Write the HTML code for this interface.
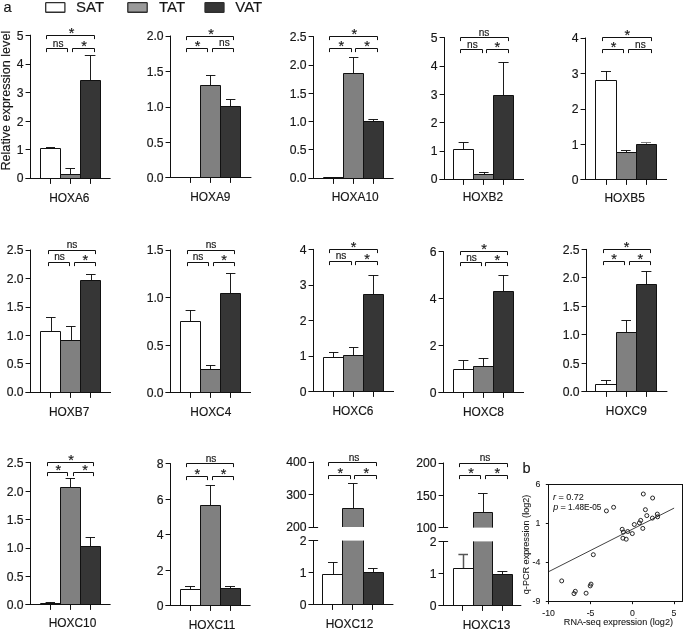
<!DOCTYPE html>
<html><head><meta charset="utf-8"><title>Figure</title>
<style>
html,body{margin:0;padding:0;background:#fff;}
svg{display:block;}
svg text{font-family:"Liberation Sans", sans-serif;fill:#161616;stroke:#161616;stroke-width:0.16px;}
svg .thin text, svg text.thin{stroke-width:0.08px;}
</style></head>
<body>
<svg width="685" height="630" viewBox="0 0 685 630">
<rect x="0" y="0" width="685" height="630" fill="#fff"/>
<line x1="50.50" y1="147.60" x2="50.50" y2="148.50" stroke="#111111" stroke-width="0.95"/>
<line x1="46.00" y1="147.50" x2="55.00" y2="147.50" stroke="#111111" stroke-width="0.95"/>
<path d="M40.50,178.50 V148.50 H60.50 V178.50" fill="#ffffff" stroke="#111111" stroke-width="1.0" stroke-linejoin="miter"/>
<line x1="70.50" y1="168.20" x2="70.50" y2="174.50" stroke="#111111" stroke-width="0.95"/>
<line x1="65.40" y1="168.50" x2="75.00" y2="168.50" stroke="#111111" stroke-width="0.95"/>
<path d="M60.50,178.50 V174.50 H80.50 V178.50" fill="#808080" stroke="#111111" stroke-width="1.0" stroke-linejoin="miter"/>
<line x1="90.50" y1="55.60" x2="90.50" y2="80.50" stroke="#111111" stroke-width="0.95"/>
<line x1="84.80" y1="55.50" x2="95.40" y2="55.50" stroke="#111111" stroke-width="0.95"/>
<path d="M80.50,178.50 V80.50 H100.50 V178.50" fill="#363636" stroke="#111111" stroke-width="1.0" stroke-linejoin="miter"/>
<line x1="25.60" y1="178.50" x2="110.60" y2="178.50" stroke="#111111" stroke-width="1.0"/>
<line x1="30.50" y1="34.75" x2="30.50" y2="178.95" stroke="#111111" stroke-width="1.0"/>
<line x1="25.60" y1="35.50" x2="30.50" y2="35.50" stroke="#111111" stroke-width="1.0"/>
<text x="23.60" y="39.50" font-size="12.2" text-anchor="end" >5</text>
<line x1="25.60" y1="64.50" x2="30.50" y2="64.50" stroke="#111111" stroke-width="1.0"/>
<text x="23.60" y="68.30" font-size="12.2" text-anchor="end" >4</text>
<line x1="25.60" y1="92.50" x2="30.50" y2="92.50" stroke="#111111" stroke-width="1.0"/>
<text x="23.60" y="96.70" font-size="12.2" text-anchor="end" >3</text>
<line x1="25.60" y1="121.50" x2="30.50" y2="121.50" stroke="#111111" stroke-width="1.0"/>
<text x="23.60" y="125.50" font-size="12.2" text-anchor="end" >2</text>
<line x1="25.60" y1="149.50" x2="30.50" y2="149.50" stroke="#111111" stroke-width="1.0"/>
<text x="23.60" y="153.90" font-size="12.2" text-anchor="end" >1</text>
<line x1="25.60" y1="178.50" x2="30.50" y2="178.50" stroke="#111111" stroke-width="1.0"/>
<text x="23.60" y="182.40" font-size="12.2" text-anchor="end" >0</text>
<line x1="50.50" y1="178.50" x2="50.50" y2="183.90" stroke="#111111" stroke-width="1.0"/>
<line x1="70.50" y1="178.50" x2="70.50" y2="183.90" stroke="#111111" stroke-width="1.0"/>
<line x1="90.50" y1="178.50" x2="90.50" y2="183.90" stroke="#111111" stroke-width="1.0"/>
<text x="69.30" y="202.10" font-size="11.9" text-anchor="middle" >HOXA6</text>
<path d="M46.50,39.10 V35.50 H94.50 V39.10" fill="none" stroke="#111111" stroke-width="1.0" stroke-linejoin="miter"/>
<text x="71.65" y="38.15" font-size="14.5" text-anchor="middle" stroke-width="0.5">*</text>
<path d="M46.50,52.10 V48.50 H67.50 V52.10" fill="none" stroke="#111111" stroke-width="1.0" stroke-linejoin="miter"/>
<text x="58.20" y="46.70" font-size="10.1" text-anchor="middle" >ns</text>
<path d="M72.50,52.10 V48.50 H94.50 V52.10" fill="none" stroke="#111111" stroke-width="1.0" stroke-linejoin="miter"/>
<text x="84.10" y="51.35" font-size="14.5" text-anchor="middle" stroke-width="0.5">*</text>
<path d="M180.50,177.50 V177.50 H200.50 V177.50" fill="#ffffff" stroke="#111111" stroke-width="1.0" stroke-linejoin="miter"/>
<line x1="210.50" y1="75.00" x2="210.50" y2="85.50" stroke="#111111" stroke-width="0.95"/>
<line x1="206.00" y1="75.50" x2="215.40" y2="75.50" stroke="#111111" stroke-width="0.95"/>
<path d="M200.50,177.50 V85.50 H220.50 V177.50" fill="#808080" stroke="#111111" stroke-width="1.0" stroke-linejoin="miter"/>
<line x1="230.50" y1="99.40" x2="230.50" y2="106.50" stroke="#111111" stroke-width="0.95"/>
<line x1="226.00" y1="99.50" x2="235.40" y2="99.50" stroke="#111111" stroke-width="0.95"/>
<path d="M220.50,177.50 V106.50 H240.50 V177.50" fill="#363636" stroke="#111111" stroke-width="1.0" stroke-linejoin="miter"/>
<line x1="165.60" y1="177.50" x2="251.40" y2="177.50" stroke="#111111" stroke-width="1.0"/>
<line x1="170.50" y1="35.55" x2="170.50" y2="177.95" stroke="#111111" stroke-width="1.0"/>
<line x1="165.60" y1="36.50" x2="170.50" y2="36.50" stroke="#111111" stroke-width="1.0"/>
<text x="163.60" y="40.30" font-size="12.2" text-anchor="end" >2.0</text>
<line x1="165.60" y1="71.50" x2="170.50" y2="71.50" stroke="#111111" stroke-width="1.0"/>
<text x="163.60" y="75.70" font-size="12.2" text-anchor="end" >1.5</text>
<line x1="165.60" y1="107.50" x2="170.50" y2="107.50" stroke="#111111" stroke-width="1.0"/>
<text x="163.60" y="111.10" font-size="12.2" text-anchor="end" >1.0</text>
<line x1="165.60" y1="142.50" x2="170.50" y2="142.50" stroke="#111111" stroke-width="1.0"/>
<text x="163.60" y="146.60" font-size="12.2" text-anchor="end" >0.5</text>
<line x1="165.60" y1="177.50" x2="170.50" y2="177.50" stroke="#111111" stroke-width="1.0"/>
<text x="163.60" y="182.00" font-size="12.2" text-anchor="end" >0.0</text>
<line x1="190.50" y1="177.50" x2="190.50" y2="182.90" stroke="#111111" stroke-width="1.0"/>
<line x1="210.50" y1="177.50" x2="210.50" y2="182.90" stroke="#111111" stroke-width="1.0"/>
<line x1="230.50" y1="177.50" x2="230.50" y2="182.90" stroke="#111111" stroke-width="1.0"/>
<text x="210.30" y="200.70" font-size="11.9" text-anchor="middle" >HOXA9</text>
<path d="M186.50,40.10 V36.50 H233.50 V40.10" fill="none" stroke="#111111" stroke-width="1.0" stroke-linejoin="miter"/>
<text x="211.00" y="38.85" font-size="14.5" text-anchor="middle" stroke-width="0.5">*</text>
<path d="M186.50,52.10 V48.50 H207.50 V52.10" fill="none" stroke="#111111" stroke-width="1.0" stroke-linejoin="miter"/>
<text x="197.60" y="50.85" font-size="14.5" text-anchor="middle" stroke-width="0.5">*</text>
<path d="M212.50,52.10 V48.50 H233.50 V52.10" fill="none" stroke="#111111" stroke-width="1.0" stroke-linejoin="miter"/>
<text x="224.40" y="46.20" font-size="10.1" text-anchor="middle" >ns</text>
<path d="M323.50,178.50 V177.50 H343.50 V178.50" fill="#ffffff" stroke="#111111" stroke-width="1.0" stroke-linejoin="miter"/>
<line x1="353.50" y1="57.40" x2="353.50" y2="73.50" stroke="#111111" stroke-width="0.95"/>
<line x1="349.00" y1="57.50" x2="358.40" y2="57.50" stroke="#111111" stroke-width="0.95"/>
<path d="M343.50,178.50 V73.50 H363.50 V178.50" fill="#808080" stroke="#111111" stroke-width="1.0" stroke-linejoin="miter"/>
<line x1="373.50" y1="119.60" x2="373.50" y2="121.50" stroke="#111111" stroke-width="0.95"/>
<line x1="368.40" y1="119.50" x2="378.00" y2="119.50" stroke="#111111" stroke-width="0.95"/>
<path d="M363.50,178.50 V121.50 H383.50 V178.50" fill="#363636" stroke="#111111" stroke-width="1.0" stroke-linejoin="miter"/>
<line x1="308.60" y1="178.50" x2="393.60" y2="178.50" stroke="#111111" stroke-width="1.0"/>
<line x1="313.50" y1="36.15" x2="313.50" y2="178.95" stroke="#111111" stroke-width="1.0"/>
<line x1="308.60" y1="36.50" x2="313.50" y2="36.50" stroke="#111111" stroke-width="1.0"/>
<text x="306.60" y="40.90" font-size="12.2" text-anchor="end" >2.5</text>
<line x1="308.60" y1="65.50" x2="313.50" y2="65.50" stroke="#111111" stroke-width="1.0"/>
<text x="306.60" y="69.30" font-size="12.2" text-anchor="end" >2.0</text>
<line x1="308.60" y1="93.50" x2="313.50" y2="93.50" stroke="#111111" stroke-width="1.0"/>
<text x="306.60" y="97.70" font-size="12.2" text-anchor="end" >1.5</text>
<line x1="308.60" y1="121.50" x2="313.50" y2="121.50" stroke="#111111" stroke-width="1.0"/>
<text x="306.60" y="125.70" font-size="12.2" text-anchor="end" >1.0</text>
<line x1="308.60" y1="149.50" x2="313.50" y2="149.50" stroke="#111111" stroke-width="1.0"/>
<text x="306.60" y="153.90" font-size="12.2" text-anchor="end" >0.5</text>
<line x1="308.60" y1="178.50" x2="313.50" y2="178.50" stroke="#111111" stroke-width="1.0"/>
<text x="306.60" y="182.30" font-size="12.2" text-anchor="end" >0.0</text>
<line x1="333.50" y1="178.50" x2="333.50" y2="183.90" stroke="#111111" stroke-width="1.0"/>
<line x1="353.50" y1="178.50" x2="353.50" y2="183.90" stroke="#111111" stroke-width="1.0"/>
<line x1="373.50" y1="178.50" x2="373.50" y2="183.90" stroke="#111111" stroke-width="1.0"/>
<text x="355.20" y="201.30" font-size="11.9" text-anchor="middle" >HOXA10</text>
<path d="M329.50,40.10 V36.50 H377.50 V40.10" fill="none" stroke="#111111" stroke-width="1.0" stroke-linejoin="miter"/>
<text x="354.40" y="39.45" font-size="14.5" text-anchor="middle" stroke-width="0.5">*</text>
<path d="M329.50,52.10 V48.50 H351.50 V52.10" fill="none" stroke="#111111" stroke-width="1.0" stroke-linejoin="miter"/>
<text x="341.40" y="51.45" font-size="14.5" text-anchor="middle" stroke-width="0.5">*</text>
<path d="M355.50,52.10 V48.50 H377.50 V52.10" fill="none" stroke="#111111" stroke-width="1.0" stroke-linejoin="miter"/>
<text x="367.00" y="51.45" font-size="14.5" text-anchor="middle" stroke-width="0.5">*</text>
<line x1="463.50" y1="142.60" x2="463.50" y2="149.50" stroke="#111111" stroke-width="0.95"/>
<line x1="458.60" y1="142.50" x2="468.60" y2="142.50" stroke="#111111" stroke-width="0.95"/>
<path d="M453.50,179.50 V149.50 H473.50 V179.50" fill="#ffffff" stroke="#111111" stroke-width="1.0" stroke-linejoin="miter"/>
<line x1="484.50" y1="172.40" x2="484.50" y2="174.50" stroke="#111111" stroke-width="0.95"/>
<line x1="479.00" y1="172.50" x2="488.60" y2="172.50" stroke="#111111" stroke-width="0.95"/>
<path d="M473.50,179.50 V174.50 H493.50 V179.50" fill="#808080" stroke="#111111" stroke-width="1.0" stroke-linejoin="miter"/>
<line x1="503.50" y1="62.00" x2="503.50" y2="95.50" stroke="#111111" stroke-width="0.95"/>
<line x1="498.40" y1="62.50" x2="508.60" y2="62.50" stroke="#111111" stroke-width="0.95"/>
<path d="M493.50,179.50 V95.50 H513.50 V179.50" fill="#363636" stroke="#111111" stroke-width="1.0" stroke-linejoin="miter"/>
<line x1="439.60" y1="179.50" x2="524.00" y2="179.50" stroke="#111111" stroke-width="1.0"/>
<line x1="444.50" y1="37.15" x2="444.50" y2="179.95" stroke="#111111" stroke-width="1.0"/>
<line x1="439.60" y1="37.50" x2="444.50" y2="37.50" stroke="#111111" stroke-width="1.0"/>
<text x="437.60" y="41.90" font-size="12.2" text-anchor="end" >5</text>
<line x1="439.60" y1="66.50" x2="444.50" y2="66.50" stroke="#111111" stroke-width="1.0"/>
<text x="437.60" y="70.30" font-size="12.2" text-anchor="end" >4</text>
<line x1="439.60" y1="94.50" x2="444.50" y2="94.50" stroke="#111111" stroke-width="1.0"/>
<text x="437.60" y="98.50" font-size="12.2" text-anchor="end" >3</text>
<line x1="439.60" y1="122.50" x2="444.50" y2="122.50" stroke="#111111" stroke-width="1.0"/>
<text x="437.60" y="126.70" font-size="12.2" text-anchor="end" >2</text>
<line x1="439.60" y1="151.50" x2="444.50" y2="151.50" stroke="#111111" stroke-width="1.0"/>
<text x="437.60" y="155.10" font-size="12.2" text-anchor="end" >1</text>
<line x1="439.60" y1="179.50" x2="444.50" y2="179.50" stroke="#111111" stroke-width="1.0"/>
<text x="437.60" y="183.30" font-size="12.2" text-anchor="end" >0</text>
<line x1="463.50" y1="179.50" x2="463.50" y2="184.90" stroke="#111111" stroke-width="1.0"/>
<line x1="483.50" y1="179.50" x2="483.50" y2="184.90" stroke="#111111" stroke-width="1.0"/>
<line x1="503.50" y1="179.50" x2="503.50" y2="184.90" stroke="#111111" stroke-width="1.0"/>
<text x="482.90" y="201.30" font-size="11.9" text-anchor="middle" >HOXB2</text>
<path d="M460.50,41.10 V37.50 H508.50 V41.10" fill="none" stroke="#111111" stroke-width="1.0" stroke-linejoin="miter"/>
<text x="484.00" y="35.80" font-size="10.1" text-anchor="middle" >ns</text>
<path d="M460.50,53.10 V49.50 H482.50 V53.10" fill="none" stroke="#111111" stroke-width="1.0" stroke-linejoin="miter"/>
<text x="472.40" y="47.80" font-size="10.1" text-anchor="middle" >ns</text>
<path d="M486.50,53.10 V49.50 H508.50 V53.10" fill="none" stroke="#111111" stroke-width="1.0" stroke-linejoin="miter"/>
<text x="497.30" y="52.45" font-size="14.5" text-anchor="middle" stroke-width="0.5">*</text>
<line x1="606.50" y1="71.00" x2="606.50" y2="80.50" stroke="#111111" stroke-width="0.95"/>
<line x1="601.00" y1="71.50" x2="611.00" y2="71.50" stroke="#111111" stroke-width="0.95"/>
<path d="M595.50,179.50 V80.50 H616.50 V179.50" fill="#ffffff" stroke="#111111" stroke-width="1.0" stroke-linejoin="miter"/>
<line x1="626.50" y1="150.60" x2="626.50" y2="152.50" stroke="#111111" stroke-width="0.95"/>
<line x1="621.00" y1="150.50" x2="630.60" y2="150.50" stroke="#111111" stroke-width="0.95"/>
<path d="M616.50,179.50 V152.50 H636.50 V179.50" fill="#808080" stroke="#111111" stroke-width="1.0" stroke-linejoin="miter"/>
<line x1="646.50" y1="142.40" x2="646.50" y2="144.50" stroke="#777" stroke-width="0.95"/>
<line x1="641.00" y1="142.50" x2="651.00" y2="142.50" stroke="#777" stroke-width="0.95"/>
<path d="M636.50,179.50 V144.50 H656.50 V179.50" fill="#363636" stroke="#111111" stroke-width="1.0" stroke-linejoin="miter"/>
<line x1="580.60" y1="179.50" x2="667.00" y2="179.50" stroke="#111111" stroke-width="1.0"/>
<line x1="585.50" y1="37.55" x2="585.50" y2="179.95" stroke="#111111" stroke-width="1.0"/>
<line x1="580.60" y1="38.50" x2="585.50" y2="38.50" stroke="#111111" stroke-width="1.0"/>
<text x="578.60" y="42.30" font-size="12.2" text-anchor="end" >4</text>
<line x1="580.60" y1="73.50" x2="585.50" y2="73.50" stroke="#111111" stroke-width="1.0"/>
<text x="578.60" y="77.90" font-size="12.2" text-anchor="end" >3</text>
<line x1="580.60" y1="109.50" x2="585.50" y2="109.50" stroke="#111111" stroke-width="1.0"/>
<text x="578.60" y="113.30" font-size="12.2" text-anchor="end" >2</text>
<line x1="580.60" y1="144.50" x2="585.50" y2="144.50" stroke="#111111" stroke-width="1.0"/>
<text x="578.60" y="148.70" font-size="12.2" text-anchor="end" >1</text>
<line x1="580.60" y1="179.50" x2="585.50" y2="179.50" stroke="#111111" stroke-width="1.0"/>
<text x="578.60" y="183.70" font-size="12.2" text-anchor="end" >0</text>
<line x1="606.50" y1="179.50" x2="606.50" y2="184.90" stroke="#111111" stroke-width="1.0"/>
<line x1="626.50" y1="179.50" x2="626.50" y2="184.90" stroke="#111111" stroke-width="1.0"/>
<line x1="646.50" y1="179.50" x2="646.50" y2="184.90" stroke="#111111" stroke-width="1.0"/>
<text x="624.70" y="202.10" font-size="11.9" text-anchor="middle" >HOXB5</text>
<path d="M602.50,41.10 V37.50 H651.50 V41.10" fill="none" stroke="#111111" stroke-width="1.0" stroke-linejoin="miter"/>
<text x="627.40" y="40.45" font-size="14.5" text-anchor="middle" stroke-width="0.5">*</text>
<path d="M602.50,53.10 V49.50 H623.50 V53.10" fill="none" stroke="#111111" stroke-width="1.0" stroke-linejoin="miter"/>
<text x="613.60" y="52.45" font-size="14.5" text-anchor="middle" stroke-width="0.5">*</text>
<path d="M628.50,53.10 V49.50 H651.50 V53.10" fill="none" stroke="#111111" stroke-width="1.0" stroke-linejoin="miter"/>
<text x="640.40" y="47.80" font-size="10.1" text-anchor="middle" >ns</text>
<line x1="51.50" y1="317.60" x2="51.50" y2="331.50" stroke="#111111" stroke-width="0.95"/>
<line x1="46.00" y1="317.50" x2="55.60" y2="317.50" stroke="#111111" stroke-width="0.95"/>
<path d="M40.50,392.50 V331.50 H60.50 V392.50" fill="#ffffff" stroke="#111111" stroke-width="1.0" stroke-linejoin="miter"/>
<line x1="71.50" y1="326.40" x2="71.50" y2="340.50" stroke="#111111" stroke-width="0.95"/>
<line x1="66.00" y1="326.50" x2="75.60" y2="326.50" stroke="#111111" stroke-width="0.95"/>
<path d="M60.50,392.50 V340.50 H80.50 V392.50" fill="#808080" stroke="#111111" stroke-width="1.0" stroke-linejoin="miter"/>
<line x1="91.50" y1="274.40" x2="91.50" y2="280.50" stroke="#111111" stroke-width="0.95"/>
<line x1="86.00" y1="274.50" x2="95.60" y2="274.50" stroke="#111111" stroke-width="0.95"/>
<path d="M80.50,392.50 V280.50 H100.50 V392.50" fill="#363636" stroke="#111111" stroke-width="1.0" stroke-linejoin="miter"/>
<line x1="25.60" y1="392.50" x2="111.00" y2="392.50" stroke="#111111" stroke-width="1.0"/>
<line x1="30.50" y1="249.55" x2="30.50" y2="392.95" stroke="#111111" stroke-width="1.0"/>
<line x1="25.60" y1="250.50" x2="30.50" y2="250.50" stroke="#111111" stroke-width="1.0"/>
<text x="23.60" y="254.30" font-size="12.2" text-anchor="end" >2.5</text>
<line x1="25.60" y1="278.50" x2="30.50" y2="278.50" stroke="#111111" stroke-width="1.0"/>
<text x="23.60" y="282.90" font-size="12.2" text-anchor="end" >2.0</text>
<line x1="25.60" y1="307.50" x2="30.50" y2="307.50" stroke="#111111" stroke-width="1.0"/>
<text x="23.60" y="311.30" font-size="12.2" text-anchor="end" >1.5</text>
<line x1="25.60" y1="335.50" x2="30.50" y2="335.50" stroke="#111111" stroke-width="1.0"/>
<text x="23.60" y="339.70" font-size="12.2" text-anchor="end" >1.0</text>
<line x1="25.60" y1="363.50" x2="30.50" y2="363.50" stroke="#111111" stroke-width="1.0"/>
<text x="23.60" y="367.90" font-size="12.2" text-anchor="end" >0.5</text>
<line x1="25.60" y1="392.50" x2="30.50" y2="392.50" stroke="#111111" stroke-width="1.0"/>
<text x="23.60" y="396.30" font-size="12.2" text-anchor="end" >0.0</text>
<line x1="50.50" y1="392.50" x2="50.50" y2="397.90" stroke="#111111" stroke-width="1.0"/>
<line x1="70.50" y1="392.50" x2="70.50" y2="397.90" stroke="#111111" stroke-width="1.0"/>
<line x1="90.50" y1="392.50" x2="90.50" y2="397.90" stroke="#111111" stroke-width="1.0"/>
<text x="69.20" y="416.10" font-size="11.9" text-anchor="middle" >HOXB7</text>
<path d="M48.50,254.10 V250.50 H95.50 V254.10" fill="none" stroke="#111111" stroke-width="1.0" stroke-linejoin="miter"/>
<text x="72.00" y="248.20" font-size="10.1" text-anchor="middle" >ns</text>
<path d="M48.50,266.10 V262.50 H69.50 V266.10" fill="none" stroke="#111111" stroke-width="1.0" stroke-linejoin="miter"/>
<text x="59.60" y="260.20" font-size="10.1" text-anchor="middle" >ns</text>
<path d="M74.50,266.10 V262.50 H95.50 V266.10" fill="none" stroke="#111111" stroke-width="1.0" stroke-linejoin="miter"/>
<text x="85.40" y="264.85" font-size="14.5" text-anchor="middle" stroke-width="0.5">*</text>
<line x1="190.50" y1="310.00" x2="190.50" y2="321.50" stroke="#111111" stroke-width="0.95"/>
<line x1="185.60" y1="310.50" x2="195.40" y2="310.50" stroke="#111111" stroke-width="0.95"/>
<path d="M180.50,392.50 V321.50 H200.50 V392.50" fill="#ffffff" stroke="#111111" stroke-width="1.0" stroke-linejoin="miter"/>
<line x1="210.50" y1="365.00" x2="210.50" y2="369.50" stroke="#111111" stroke-width="0.95"/>
<line x1="206.00" y1="365.50" x2="215.40" y2="365.50" stroke="#111111" stroke-width="0.95"/>
<path d="M200.50,392.50 V369.50 H220.50 V392.50" fill="#808080" stroke="#111111" stroke-width="1.0" stroke-linejoin="miter"/>
<line x1="230.50" y1="273.00" x2="230.50" y2="293.50" stroke="#111111" stroke-width="0.95"/>
<line x1="226.00" y1="273.50" x2="235.40" y2="273.50" stroke="#111111" stroke-width="0.95"/>
<path d="M220.50,392.50 V293.50 H240.50 V392.50" fill="#363636" stroke="#111111" stroke-width="1.0" stroke-linejoin="miter"/>
<line x1="165.60" y1="392.50" x2="251.00" y2="392.50" stroke="#111111" stroke-width="1.0"/>
<line x1="170.50" y1="249.55" x2="170.50" y2="392.95" stroke="#111111" stroke-width="1.0"/>
<line x1="165.60" y1="250.50" x2="170.50" y2="250.50" stroke="#111111" stroke-width="1.0"/>
<text x="163.60" y="254.30" font-size="12.2" text-anchor="end" >1.5</text>
<line x1="165.60" y1="297.50" x2="170.50" y2="297.50" stroke="#111111" stroke-width="1.0"/>
<text x="163.60" y="301.90" font-size="12.2" text-anchor="end" >1.0</text>
<line x1="165.60" y1="345.50" x2="170.50" y2="345.50" stroke="#111111" stroke-width="1.0"/>
<text x="163.60" y="349.50" font-size="12.2" text-anchor="end" >0.5</text>
<line x1="165.60" y1="392.50" x2="170.50" y2="392.50" stroke="#111111" stroke-width="1.0"/>
<text x="163.60" y="396.70" font-size="12.2" text-anchor="end" >0.0</text>
<line x1="190.50" y1="392.50" x2="190.50" y2="397.90" stroke="#111111" stroke-width="1.0"/>
<line x1="210.50" y1="392.50" x2="210.50" y2="397.90" stroke="#111111" stroke-width="1.0"/>
<line x1="230.50" y1="392.50" x2="230.50" y2="397.90" stroke="#111111" stroke-width="1.0"/>
<text x="210.80" y="416.10" font-size="11.9" text-anchor="middle" >HOXC4</text>
<path d="M187.50,254.10 V250.50 H234.50 V254.10" fill="none" stroke="#111111" stroke-width="1.0" stroke-linejoin="miter"/>
<text x="211.00" y="248.20" font-size="10.1" text-anchor="middle" >ns</text>
<path d="M187.50,266.10 V262.50 H208.50 V266.10" fill="none" stroke="#111111" stroke-width="1.0" stroke-linejoin="miter"/>
<text x="198.00" y="260.20" font-size="10.1" text-anchor="middle" >ns</text>
<path d="M213.50,266.10 V262.50 H234.50 V266.10" fill="none" stroke="#111111" stroke-width="1.0" stroke-linejoin="miter"/>
<text x="224.00" y="264.85" font-size="14.5" text-anchor="middle" stroke-width="0.5">*</text>
<line x1="333.50" y1="352.00" x2="333.50" y2="357.50" stroke="#111111" stroke-width="0.95"/>
<line x1="329.00" y1="352.50" x2="338.40" y2="352.50" stroke="#111111" stroke-width="0.95"/>
<path d="M323.50,391.50 V357.50 H343.50 V391.50" fill="#ffffff" stroke="#111111" stroke-width="1.0" stroke-linejoin="miter"/>
<line x1="353.50" y1="347.60" x2="353.50" y2="355.50" stroke="#111111" stroke-width="0.95"/>
<line x1="349.00" y1="347.50" x2="358.40" y2="347.50" stroke="#111111" stroke-width="0.95"/>
<path d="M343.50,391.50 V355.50 H363.50 V391.50" fill="#808080" stroke="#111111" stroke-width="1.0" stroke-linejoin="miter"/>
<line x1="373.50" y1="275.00" x2="373.50" y2="294.50" stroke="#111111" stroke-width="0.95"/>
<line x1="368.40" y1="275.50" x2="378.40" y2="275.50" stroke="#111111" stroke-width="0.95"/>
<path d="M363.50,391.50 V294.50 H383.50 V391.50" fill="#363636" stroke="#111111" stroke-width="1.0" stroke-linejoin="miter"/>
<line x1="308.60" y1="391.50" x2="394.00" y2="391.50" stroke="#111111" stroke-width="1.0"/>
<line x1="313.50" y1="248.95" x2="313.50" y2="391.95" stroke="#111111" stroke-width="1.0"/>
<line x1="308.60" y1="249.50" x2="313.50" y2="249.50" stroke="#111111" stroke-width="1.0"/>
<text x="306.60" y="253.70" font-size="12.2" text-anchor="end" >4</text>
<line x1="308.60" y1="285.50" x2="313.50" y2="285.50" stroke="#111111" stroke-width="1.0"/>
<text x="306.60" y="289.30" font-size="12.2" text-anchor="end" >3</text>
<line x1="308.60" y1="320.50" x2="313.50" y2="320.50" stroke="#111111" stroke-width="1.0"/>
<text x="306.60" y="324.70" font-size="12.2" text-anchor="end" >2</text>
<line x1="308.60" y1="356.50" x2="313.50" y2="356.50" stroke="#111111" stroke-width="1.0"/>
<text x="306.60" y="360.30" font-size="12.2" text-anchor="end" >1</text>
<line x1="308.60" y1="391.50" x2="313.50" y2="391.50" stroke="#111111" stroke-width="1.0"/>
<text x="306.60" y="395.90" font-size="12.2" text-anchor="end" >0</text>
<line x1="333.50" y1="391.50" x2="333.50" y2="396.90" stroke="#111111" stroke-width="1.0"/>
<line x1="353.50" y1="391.50" x2="353.50" y2="396.90" stroke="#111111" stroke-width="1.0"/>
<line x1="373.50" y1="391.50" x2="373.50" y2="396.90" stroke="#111111" stroke-width="1.0"/>
<text x="353.00" y="415.30" font-size="11.9" text-anchor="middle" >HOXC6</text>
<path d="M329.50,253.10 V249.50 H377.50 V253.10" fill="none" stroke="#111111" stroke-width="1.0" stroke-linejoin="miter"/>
<text x="353.60" y="252.25" font-size="14.5" text-anchor="middle" stroke-width="0.5">*</text>
<path d="M329.50,265.10 V261.50 H351.50 V265.10" fill="none" stroke="#111111" stroke-width="1.0" stroke-linejoin="miter"/>
<text x="341.00" y="259.20" font-size="10.1" text-anchor="middle" >ns</text>
<path d="M355.50,265.10 V261.50 H377.50 V265.10" fill="none" stroke="#111111" stroke-width="1.0" stroke-linejoin="miter"/>
<text x="367.00" y="263.85" font-size="14.5" text-anchor="middle" stroke-width="0.5">*</text>
<line x1="463.50" y1="360.60" x2="463.50" y2="369.50" stroke="#111111" stroke-width="0.95"/>
<line x1="458.40" y1="360.50" x2="468.40" y2="360.50" stroke="#111111" stroke-width="0.95"/>
<path d="M453.50,392.50 V369.50 H473.50 V392.50" fill="#ffffff" stroke="#111111" stroke-width="1.0" stroke-linejoin="miter"/>
<line x1="483.50" y1="358.00" x2="483.50" y2="366.50" stroke="#111111" stroke-width="0.95"/>
<line x1="478.60" y1="358.50" x2="488.40" y2="358.50" stroke="#111111" stroke-width="0.95"/>
<path d="M473.50,392.50 V366.50 H493.50 V392.50" fill="#808080" stroke="#111111" stroke-width="1.0" stroke-linejoin="miter"/>
<line x1="503.50" y1="275.40" x2="503.50" y2="291.50" stroke="#111111" stroke-width="0.95"/>
<line x1="498.40" y1="275.50" x2="508.40" y2="275.50" stroke="#111111" stroke-width="0.95"/>
<path d="M493.50,392.50 V291.50 H513.50 V392.50" fill="#363636" stroke="#111111" stroke-width="1.0" stroke-linejoin="miter"/>
<line x1="438.60" y1="392.50" x2="524.00" y2="392.50" stroke="#111111" stroke-width="1.0"/>
<line x1="443.50" y1="251.15" x2="443.50" y2="392.95" stroke="#111111" stroke-width="1.0"/>
<line x1="438.60" y1="251.50" x2="443.50" y2="251.50" stroke="#111111" stroke-width="1.0"/>
<text x="436.60" y="255.90" font-size="12.2" text-anchor="end" >6</text>
<line x1="438.60" y1="298.50" x2="443.50" y2="298.50" stroke="#111111" stroke-width="1.0"/>
<text x="436.60" y="302.90" font-size="12.2" text-anchor="end" >4</text>
<line x1="438.60" y1="345.50" x2="443.50" y2="345.50" stroke="#111111" stroke-width="1.0"/>
<text x="436.60" y="349.90" font-size="12.2" text-anchor="end" >2</text>
<line x1="438.60" y1="392.50" x2="443.50" y2="392.50" stroke="#111111" stroke-width="1.0"/>
<text x="436.60" y="396.70" font-size="12.2" text-anchor="end" >0</text>
<line x1="463.50" y1="392.50" x2="463.50" y2="397.90" stroke="#111111" stroke-width="1.0"/>
<line x1="483.50" y1="392.50" x2="483.50" y2="397.90" stroke="#111111" stroke-width="1.0"/>
<line x1="503.50" y1="392.50" x2="503.50" y2="397.90" stroke="#111111" stroke-width="1.0"/>
<text x="483.50" y="415.70" font-size="11.9" text-anchor="middle" >HOXC8</text>
<path d="M460.50,255.10 V251.50 H507.50 V255.10" fill="none" stroke="#111111" stroke-width="1.0" stroke-linejoin="miter"/>
<text x="484.00" y="253.85" font-size="14.5" text-anchor="middle" stroke-width="0.5">*</text>
<path d="M460.50,266.10 V262.50 H481.50 V266.10" fill="none" stroke="#111111" stroke-width="1.0" stroke-linejoin="miter"/>
<text x="471.60" y="260.80" font-size="10.1" text-anchor="middle" >ns</text>
<path d="M485.50,266.10 V262.50 H507.50 V266.10" fill="none" stroke="#111111" stroke-width="1.0" stroke-linejoin="miter"/>
<text x="497.40" y="265.45" font-size="14.5" text-anchor="middle" stroke-width="0.5">*</text>
<line x1="606.50" y1="380.00" x2="606.50" y2="384.50" stroke="#111111" stroke-width="0.95"/>
<line x1="601.00" y1="380.50" x2="611.00" y2="380.50" stroke="#111111" stroke-width="0.95"/>
<path d="M595.50,391.50 V384.50 H616.50 V391.50" fill="#ffffff" stroke="#111111" stroke-width="1.0" stroke-linejoin="miter"/>
<line x1="626.50" y1="320.60" x2="626.50" y2="332.50" stroke="#111111" stroke-width="0.95"/>
<line x1="621.40" y1="320.50" x2="631.00" y2="320.50" stroke="#111111" stroke-width="0.95"/>
<path d="M616.50,391.50 V332.50 H636.50 V391.50" fill="#808080" stroke="#111111" stroke-width="1.0" stroke-linejoin="miter"/>
<line x1="646.50" y1="271.60" x2="646.50" y2="284.50" stroke="#111111" stroke-width="0.95"/>
<line x1="641.40" y1="271.50" x2="651.40" y2="271.50" stroke="#111111" stroke-width="0.95"/>
<path d="M636.50,391.50 V284.50 H656.50 V391.50" fill="#363636" stroke="#111111" stroke-width="1.0" stroke-linejoin="miter"/>
<line x1="581.60" y1="391.50" x2="667.40" y2="391.50" stroke="#111111" stroke-width="1.0"/>
<line x1="586.50" y1="248.95" x2="586.50" y2="391.95" stroke="#111111" stroke-width="1.0"/>
<line x1="581.60" y1="249.50" x2="586.50" y2="249.50" stroke="#111111" stroke-width="1.0"/>
<text x="579.60" y="253.70" font-size="12.2" text-anchor="end" >2.5</text>
<line x1="581.60" y1="277.50" x2="586.50" y2="277.50" stroke="#111111" stroke-width="1.0"/>
<text x="579.60" y="281.90" font-size="12.2" text-anchor="end" >2.0</text>
<line x1="581.60" y1="306.50" x2="586.50" y2="306.50" stroke="#111111" stroke-width="1.0"/>
<text x="579.60" y="310.70" font-size="12.2" text-anchor="end" >1.5</text>
<line x1="581.60" y1="334.50" x2="586.50" y2="334.50" stroke="#111111" stroke-width="1.0"/>
<text x="579.60" y="338.90" font-size="12.2" text-anchor="end" >1.0</text>
<line x1="581.60" y1="363.50" x2="586.50" y2="363.50" stroke="#111111" stroke-width="1.0"/>
<text x="579.60" y="367.70" font-size="12.2" text-anchor="end" >0.5</text>
<line x1="581.60" y1="391.50" x2="586.50" y2="391.50" stroke="#111111" stroke-width="1.0"/>
<text x="579.60" y="395.90" font-size="12.2" text-anchor="end" >0.0</text>
<line x1="606.50" y1="391.50" x2="606.50" y2="396.90" stroke="#111111" stroke-width="1.0"/>
<line x1="626.50" y1="391.50" x2="626.50" y2="396.90" stroke="#111111" stroke-width="1.0"/>
<line x1="646.50" y1="391.50" x2="646.50" y2="396.90" stroke="#111111" stroke-width="1.0"/>
<text x="626.30" y="415.30" font-size="11.9" text-anchor="middle" >HOXC9</text>
<path d="M603.50,253.10 V249.50 H650.50 V253.10" fill="none" stroke="#111111" stroke-width="1.0" stroke-linejoin="miter"/>
<text x="626.60" y="252.25" font-size="14.5" text-anchor="middle" stroke-width="0.5">*</text>
<path d="M603.50,265.10 V261.50 H624.50 V265.10" fill="none" stroke="#111111" stroke-width="1.0" stroke-linejoin="miter"/>
<text x="614.00" y="263.85" font-size="14.5" text-anchor="middle" stroke-width="0.5">*</text>
<path d="M629.50,265.10 V261.50 H650.50 V265.10" fill="none" stroke="#111111" stroke-width="1.0" stroke-linejoin="miter"/>
<text x="640.40" y="263.85" font-size="14.5" text-anchor="middle" stroke-width="0.5">*</text>
<line x1="50.50" y1="602.40" x2="50.50" y2="603.50" stroke="#111111" stroke-width="0.95"/>
<line x1="45.60" y1="602.50" x2="55.00" y2="602.50" stroke="#111111" stroke-width="0.95"/>
<path d="M40.50,604.50 V603.50 H60.50 V604.50" fill="#ffffff" stroke="#111111" stroke-width="1.0" stroke-linejoin="miter"/>
<line x1="70.50" y1="478.00" x2="70.50" y2="487.50" stroke="#111111" stroke-width="0.95"/>
<line x1="65.60" y1="478.50" x2="75.00" y2="478.50" stroke="#111111" stroke-width="0.95"/>
<path d="M60.50,604.50 V487.50 H80.50 V604.50" fill="#808080" stroke="#111111" stroke-width="1.0" stroke-linejoin="miter"/>
<line x1="90.50" y1="537.00" x2="90.50" y2="546.50" stroke="#111111" stroke-width="0.95"/>
<line x1="85.60" y1="537.50" x2="95.00" y2="537.50" stroke="#111111" stroke-width="0.95"/>
<path d="M80.50,604.50 V546.50 H100.50 V604.50" fill="#363636" stroke="#111111" stroke-width="1.0" stroke-linejoin="miter"/>
<line x1="25.60" y1="604.50" x2="110.60" y2="604.50" stroke="#111111" stroke-width="1.0"/>
<line x1="30.50" y1="461.95" x2="30.50" y2="604.95" stroke="#111111" stroke-width="1.0"/>
<line x1="25.60" y1="462.50" x2="30.50" y2="462.50" stroke="#111111" stroke-width="1.0"/>
<text x="23.60" y="466.70" font-size="12.2" text-anchor="end" >2.5</text>
<line x1="25.60" y1="491.50" x2="30.50" y2="491.50" stroke="#111111" stroke-width="1.0"/>
<text x="23.60" y="495.70" font-size="12.2" text-anchor="end" >2.0</text>
<line x1="25.60" y1="519.50" x2="30.50" y2="519.50" stroke="#111111" stroke-width="1.0"/>
<text x="23.60" y="523.90" font-size="12.2" text-anchor="end" >1.5</text>
<line x1="25.60" y1="548.50" x2="30.50" y2="548.50" stroke="#111111" stroke-width="1.0"/>
<text x="23.60" y="552.30" font-size="12.2" text-anchor="end" >1.0</text>
<line x1="25.60" y1="576.50" x2="30.50" y2="576.50" stroke="#111111" stroke-width="1.0"/>
<text x="23.60" y="580.70" font-size="12.2" text-anchor="end" >0.5</text>
<line x1="25.60" y1="604.50" x2="30.50" y2="604.50" stroke="#111111" stroke-width="1.0"/>
<text x="23.60" y="608.90" font-size="12.2" text-anchor="end" >0.0</text>
<line x1="50.50" y1="604.50" x2="50.50" y2="609.90" stroke="#111111" stroke-width="1.0"/>
<line x1="70.50" y1="604.50" x2="70.50" y2="609.90" stroke="#111111" stroke-width="1.0"/>
<line x1="90.50" y1="604.50" x2="90.50" y2="609.90" stroke="#111111" stroke-width="1.0"/>
<text x="72.50" y="627.30" font-size="11.9" text-anchor="middle" >HOXC10</text>
<path d="M47.50,466.10 V462.50 H93.50 V466.10" fill="none" stroke="#111111" stroke-width="1.0" stroke-linejoin="miter"/>
<text x="71.00" y="465.25" font-size="14.5" text-anchor="middle" stroke-width="0.5">*</text>
<path d="M47.50,476.10 V472.50 H67.50 V476.10" fill="none" stroke="#111111" stroke-width="1.0" stroke-linejoin="miter"/>
<text x="58.40" y="474.85" font-size="14.5" text-anchor="middle" stroke-width="0.5">*</text>
<path d="M73.50,476.10 V472.50 H93.50 V476.10" fill="none" stroke="#111111" stroke-width="1.0" stroke-linejoin="miter"/>
<text x="85.00" y="474.85" font-size="14.5" text-anchor="middle" stroke-width="0.5">*</text>
<line x1="190.50" y1="586.40" x2="190.50" y2="589.50" stroke="#111111" stroke-width="0.95"/>
<line x1="185.00" y1="586.50" x2="195.00" y2="586.50" stroke="#111111" stroke-width="0.95"/>
<path d="M180.50,605.50 V589.50 H200.50 V605.50" fill="#ffffff" stroke="#111111" stroke-width="1.0" stroke-linejoin="miter"/>
<line x1="210.50" y1="485.00" x2="210.50" y2="505.50" stroke="#111111" stroke-width="0.95"/>
<line x1="205.60" y1="485.50" x2="215.00" y2="485.50" stroke="#111111" stroke-width="0.95"/>
<path d="M200.50,605.50 V505.50 H220.50 V605.50" fill="#808080" stroke="#111111" stroke-width="1.0" stroke-linejoin="miter"/>
<line x1="230.50" y1="586.00" x2="230.50" y2="588.50" stroke="#111111" stroke-width="0.95"/>
<line x1="225.00" y1="586.50" x2="235.00" y2="586.50" stroke="#111111" stroke-width="0.95"/>
<path d="M220.50,605.50 V588.50 H240.50 V605.50" fill="#363636" stroke="#111111" stroke-width="1.0" stroke-linejoin="miter"/>
<line x1="165.60" y1="605.50" x2="250.60" y2="605.50" stroke="#111111" stroke-width="1.0"/>
<line x1="170.50" y1="463.15" x2="170.50" y2="605.95" stroke="#111111" stroke-width="1.0"/>
<line x1="165.60" y1="463.50" x2="170.50" y2="463.50" stroke="#111111" stroke-width="1.0"/>
<text x="163.60" y="467.90" font-size="12.2" text-anchor="end" >8</text>
<line x1="165.60" y1="499.50" x2="170.50" y2="499.50" stroke="#111111" stroke-width="1.0"/>
<text x="163.60" y="503.70" font-size="12.2" text-anchor="end" >6</text>
<line x1="165.60" y1="534.50" x2="170.50" y2="534.50" stroke="#111111" stroke-width="1.0"/>
<text x="163.60" y="538.90" font-size="12.2" text-anchor="end" >4</text>
<line x1="165.60" y1="570.50" x2="170.50" y2="570.50" stroke="#111111" stroke-width="1.0"/>
<text x="163.60" y="574.70" font-size="12.2" text-anchor="end" >2</text>
<line x1="165.60" y1="605.50" x2="170.50" y2="605.50" stroke="#111111" stroke-width="1.0"/>
<text x="163.60" y="609.90" font-size="12.2" text-anchor="end" >0</text>
<line x1="190.50" y1="605.50" x2="190.50" y2="610.90" stroke="#111111" stroke-width="1.0"/>
<line x1="210.50" y1="605.50" x2="210.50" y2="610.90" stroke="#111111" stroke-width="1.0"/>
<line x1="230.50" y1="605.50" x2="230.50" y2="610.90" stroke="#111111" stroke-width="1.0"/>
<text x="212.00" y="628.70" font-size="11.9" text-anchor="middle" >HOXC11</text>
<path d="M186.50,467.10 V463.50 H233.50 V467.10" fill="none" stroke="#111111" stroke-width="1.0" stroke-linejoin="miter"/>
<text x="211.00" y="461.80" font-size="10.1" text-anchor="middle" >ns</text>
<path d="M186.50,480.10 V476.50 H207.50 V480.10" fill="none" stroke="#111111" stroke-width="1.0" stroke-linejoin="miter"/>
<text x="197.40" y="478.85" font-size="14.5" text-anchor="middle" stroke-width="0.5">*</text>
<path d="M212.50,480.10 V476.50 H233.50 V480.10" fill="none" stroke="#111111" stroke-width="1.0" stroke-linejoin="miter"/>
<text x="223.60" y="478.85" font-size="14.5" text-anchor="middle" stroke-width="0.5">*</text>
<line x1="333.50" y1="562.00" x2="333.50" y2="574.50" stroke="#111111" stroke-width="0.95"/>
<line x1="328.00" y1="562.50" x2="337.60" y2="562.50" stroke="#111111" stroke-width="0.95"/>
<path d="M322.50,604.50 V574.50 H342.50 V604.50" fill="#ffffff" stroke="#111111" stroke-width="1.0" stroke-linejoin="miter"/>
<line x1="353.50" y1="483.60" x2="353.50" y2="508.50" stroke="#111111" stroke-width="0.95"/>
<line x1="348.00" y1="483.50" x2="357.60" y2="483.50" stroke="#111111" stroke-width="0.95"/>
<rect x="342.50" y="540.60" width="21.00" height="63.90" fill="#808080"/>
<line x1="342.50" y1="540.60" x2="342.50" y2="604.50" stroke="#111111" stroke-width="1.0"/>
<line x1="363.50" y1="540.60" x2="363.50" y2="604.50" stroke="#111111" stroke-width="1.0"/>
<rect x="342.50" y="508.50" width="21.00" height="18.50" fill="#808080"/>
<path d="M342.50,527.00 V508.50 H363.50 V527.00" fill="none" stroke="#111111" stroke-width="1.0" stroke-linejoin="miter"/>
<line x1="373.50" y1="568.00" x2="373.50" y2="572.50" stroke="#111111" stroke-width="0.95"/>
<line x1="368.00" y1="568.50" x2="377.60" y2="568.50" stroke="#111111" stroke-width="0.95"/>
<path d="M363.50,604.50 V572.50 H383.50 V604.50" fill="#363636" stroke="#111111" stroke-width="1.0" stroke-linejoin="miter"/>
<line x1="308.60" y1="604.50" x2="393.40" y2="604.50" stroke="#111111" stroke-width="1.0"/>
<line x1="313.50" y1="461.55" x2="313.50" y2="527.00" stroke="#111111" stroke-width="1.0"/>
<line x1="313.50" y1="540.60" x2="313.50" y2="604.50" stroke="#111111" stroke-width="1.0"/>
<line x1="308.60" y1="462.50" x2="313.50" y2="462.50" stroke="#111111" stroke-width="1.0"/>
<text x="306.60" y="466.30" font-size="12.2" text-anchor="end" >400</text>
<line x1="308.60" y1="494.50" x2="313.50" y2="494.50" stroke="#111111" stroke-width="1.0"/>
<text x="306.60" y="498.70" font-size="12.2" text-anchor="end" >300</text>
<line x1="308.60" y1="527.50" x2="318.10" y2="527.50" stroke="#111111" stroke-width="1.0"/>
<text x="306.60" y="531.30" font-size="12.2" text-anchor="end" >200</text>
<line x1="308.60" y1="540.50" x2="318.10" y2="540.50" stroke="#111111" stroke-width="1.0"/>
<text x="306.60" y="544.90" font-size="12.2" text-anchor="end" >2</text>
<line x1="308.60" y1="572.50" x2="313.50" y2="572.50" stroke="#111111" stroke-width="1.0"/>
<text x="306.60" y="576.90" font-size="12.2" text-anchor="end" >1</text>
<line x1="308.60" y1="604.50" x2="313.50" y2="604.50" stroke="#111111" stroke-width="1.0"/>
<text x="306.60" y="608.90" font-size="12.2" text-anchor="end" >0</text>
<line x1="332.50" y1="604.50" x2="332.50" y2="609.90" stroke="#111111" stroke-width="1.0"/>
<line x1="352.50" y1="604.50" x2="352.50" y2="609.90" stroke="#111111" stroke-width="1.0"/>
<line x1="372.50" y1="604.50" x2="372.50" y2="609.90" stroke="#111111" stroke-width="1.0"/>
<text x="349.50" y="627.70" font-size="11.9" text-anchor="middle" >HOXC12</text>
<path d="M328.50,466.10 V462.50 H376.50 V466.10" fill="none" stroke="#111111" stroke-width="1.0" stroke-linejoin="miter"/>
<text x="354.00" y="460.80" font-size="10.1" text-anchor="middle" >ns</text>
<path d="M328.50,479.10 V475.50 H350.50 V479.10" fill="none" stroke="#111111" stroke-width="1.0" stroke-linejoin="miter"/>
<text x="340.40" y="477.85" font-size="14.5" text-anchor="middle" stroke-width="0.5">*</text>
<path d="M354.50,479.10 V475.50 H376.50 V479.10" fill="none" stroke="#111111" stroke-width="1.0" stroke-linejoin="miter"/>
<text x="366.40" y="477.85" font-size="14.5" text-anchor="middle" stroke-width="0.5">*</text>
<line x1="463.50" y1="554.60" x2="463.50" y2="568.50" stroke="#555" stroke-width="1.5"/>
<line x1="458.40" y1="554.50" x2="468.00" y2="554.50" stroke="#555" stroke-width="1.5"/>
<path d="M453.50,605.50 V568.50 H473.50 V605.50" fill="#ffffff" stroke="#111111" stroke-width="1.0" stroke-linejoin="miter"/>
<line x1="483.50" y1="493.60" x2="483.50" y2="512.50" stroke="#111111" stroke-width="0.95"/>
<line x1="478.00" y1="493.50" x2="487.60" y2="493.50" stroke="#111111" stroke-width="0.95"/>
<rect x="473.50" y="541.40" width="19.00" height="64.10" fill="#808080"/>
<line x1="473.50" y1="541.40" x2="473.50" y2="605.50" stroke="#111111" stroke-width="1.0"/>
<line x1="492.50" y1="541.40" x2="492.50" y2="605.50" stroke="#111111" stroke-width="1.0"/>
<rect x="473.50" y="512.50" width="19.00" height="15.10" fill="#808080"/>
<path d="M473.50,527.60 V512.50 H492.50 V527.60" fill="none" stroke="#111111" stroke-width="1.0" stroke-linejoin="miter"/>
<line x1="502.50" y1="571.60" x2="502.50" y2="574.50" stroke="#111111" stroke-width="0.95"/>
<line x1="497.40" y1="571.50" x2="507.40" y2="571.50" stroke="#111111" stroke-width="0.95"/>
<path d="M492.50,605.50 V574.50 H512.50 V605.50" fill="#363636" stroke="#111111" stroke-width="1.0" stroke-linejoin="miter"/>
<line x1="438.60" y1="605.50" x2="521.30" y2="605.50" stroke="#111111" stroke-width="1.0"/>
<line x1="443.50" y1="462.55" x2="443.50" y2="527.60" stroke="#111111" stroke-width="1.0"/>
<line x1="443.50" y1="541.40" x2="443.50" y2="605.50" stroke="#111111" stroke-width="1.0"/>
<line x1="438.60" y1="463.50" x2="443.50" y2="463.50" stroke="#111111" stroke-width="1.0"/>
<text x="436.60" y="467.30" font-size="12.2" text-anchor="end" >200</text>
<line x1="438.60" y1="495.50" x2="443.50" y2="495.50" stroke="#111111" stroke-width="1.0"/>
<text x="436.60" y="499.70" font-size="12.2" text-anchor="end" >150</text>
<line x1="438.60" y1="527.50" x2="448.10" y2="527.50" stroke="#111111" stroke-width="1.0"/>
<text x="436.60" y="531.90" font-size="12.2" text-anchor="end" >100</text>
<line x1="438.60" y1="541.50" x2="448.10" y2="541.50" stroke="#111111" stroke-width="1.0"/>
<text x="436.60" y="545.70" font-size="12.2" text-anchor="end" >2</text>
<line x1="438.60" y1="573.50" x2="443.50" y2="573.50" stroke="#111111" stroke-width="1.0"/>
<text x="436.60" y="577.70" font-size="12.2" text-anchor="end" >1</text>
<line x1="438.60" y1="605.50" x2="443.50" y2="605.50" stroke="#111111" stroke-width="1.0"/>
<text x="436.60" y="609.90" font-size="12.2" text-anchor="end" >0</text>
<line x1="462.50" y1="605.50" x2="462.50" y2="610.90" stroke="#111111" stroke-width="1.0"/>
<line x1="482.50" y1="605.50" x2="482.50" y2="610.90" stroke="#111111" stroke-width="1.0"/>
<line x1="502.50" y1="605.50" x2="502.50" y2="610.90" stroke="#111111" stroke-width="1.0"/>
<text x="486.50" y="628.70" font-size="11.9" text-anchor="middle" >HOXC13</text>
<path d="M459.50,467.10 V463.50 H507.50 V467.10" fill="none" stroke="#111111" stroke-width="1.0" stroke-linejoin="miter"/>
<text x="485.00" y="461.20" font-size="10.1" text-anchor="middle" >ns</text>
<path d="M459.50,479.10 V475.50 H480.50 V479.10" fill="none" stroke="#111111" stroke-width="1.0" stroke-linejoin="miter"/>
<text x="471.00" y="478.45" font-size="14.5" text-anchor="middle" stroke-width="0.5">*</text>
<path d="M485.50,479.10 V475.50 H507.50 V479.10" fill="none" stroke="#111111" stroke-width="1.0" stroke-linejoin="miter"/>
<text x="497.40" y="478.45" font-size="14.5" text-anchor="middle" stroke-width="0.5">*</text>
<rect x="45.70" y="2.65" width="19.20" height="9.6" rx="0.6" fill="#ffffff" stroke="#2e2e2e" stroke-width="1.3"/>
<text x="76.00" y="12.35" font-size="15" text-anchor="start" >SAT</text>
<rect x="127.80" y="2.65" width="19.40" height="9.6" rx="0.6" fill="#9a9a9a" stroke="#2e2e2e" stroke-width="1.3"/>
<text x="159.00" y="12.35" font-size="15" text-anchor="start" >TAT</text>
<rect x="205.00" y="2.65" width="19.00" height="9.6" rx="0.6" fill="#363636" stroke="#2e2e2e" stroke-width="1.3"/>
<text x="235.30" y="12.35" font-size="15" text-anchor="start" >VAT</text>
<text x="3.50" y="11.80" font-size="14.5" text-anchor="start" >a</text>
<text x="522.60" y="473.20" font-size="14.5" text-anchor="start" >b</text>
<text transform="translate(10.3,170.6) rotate(-90)" font-size="12.65">Relative expression level</text>
<rect x="548.5" y="484.5" width="134.0" height="117.0" fill="none" stroke="#111111" stroke-width="1.0"/>
<line x1="545.80" y1="484.50" x2="548.50" y2="484.50" stroke="#111111" stroke-width="1.0"/>
<text x="540.40" y="487.10" font-size="8.8" text-anchor="end" class="thin">6</text>
<line x1="545.80" y1="523.50" x2="548.50" y2="523.50" stroke="#111111" stroke-width="1.0"/>
<text x="540.40" y="526.20" font-size="8.8" text-anchor="end" class="thin">1</text>
<line x1="545.80" y1="562.50" x2="548.50" y2="562.50" stroke="#111111" stroke-width="1.0"/>
<text x="540.40" y="565.30" font-size="8.8" text-anchor="end" class="thin">-4</text>
<line x1="545.80" y1="601.50" x2="548.50" y2="601.50" stroke="#111111" stroke-width="1.0"/>
<text x="540.40" y="604.40" font-size="8.8" text-anchor="end" class="thin">-9</text>
<line x1="548.50" y1="601.50" x2="548.50" y2="604.20" stroke="#111111" stroke-width="1.0"/>
<text x="548.60" y="615.80" font-size="8.7" text-anchor="middle" class="thin">-10</text>
<line x1="590.50" y1="601.50" x2="590.50" y2="604.20" stroke="#111111" stroke-width="1.0"/>
<text x="590.60" y="615.80" font-size="8.7" text-anchor="middle" class="thin">-5</text>
<line x1="632.50" y1="601.50" x2="632.50" y2="604.20" stroke="#111111" stroke-width="1.0"/>
<text x="632.40" y="615.80" font-size="8.7" text-anchor="middle" class="thin">0</text>
<line x1="674.50" y1="601.50" x2="674.50" y2="604.20" stroke="#111111" stroke-width="1.0"/>
<text x="674.00" y="615.80" font-size="8.7" text-anchor="middle" class="thin">5</text>
<line x1="548.60" y1="571.70" x2="674.10" y2="508.10" stroke="#111111" stroke-width="0.8"/>
<circle cx="643.3" cy="494.0" r="2.0" fill="#fff" fill-opacity="0" stroke="#111111" stroke-width="0.9"/>
<circle cx="652.6" cy="498.0" r="2.0" fill="#fff" fill-opacity="0" stroke="#111111" stroke-width="0.9"/>
<circle cx="613.6" cy="507.3" r="2.0" fill="#fff" fill-opacity="0" stroke="#111111" stroke-width="0.9"/>
<circle cx="606.4" cy="510.9" r="2.0" fill="#fff" fill-opacity="0" stroke="#111111" stroke-width="0.9"/>
<circle cx="645.4" cy="509.7" r="2.0" fill="#fff" fill-opacity="0" stroke="#111111" stroke-width="0.9"/>
<circle cx="646.8" cy="515.6" r="2.0" fill="#fff" fill-opacity="0" stroke="#111111" stroke-width="0.9"/>
<circle cx="657.3" cy="514.1" r="2.0" fill="#fff" fill-opacity="0" stroke="#111111" stroke-width="0.9"/>
<circle cx="657.6" cy="516.8" r="2.0" fill="#fff" fill-opacity="0" stroke="#111111" stroke-width="0.9"/>
<circle cx="652.4" cy="518.1" r="2.0" fill="#fff" fill-opacity="0" stroke="#111111" stroke-width="0.9"/>
<circle cx="640.7" cy="520.4" r="2.0" fill="#fff" fill-opacity="0" stroke="#111111" stroke-width="0.9"/>
<circle cx="639.4" cy="522.9" r="2.0" fill="#fff" fill-opacity="0" stroke="#111111" stroke-width="0.9"/>
<circle cx="634.3" cy="524.5" r="2.0" fill="#fff" fill-opacity="0" stroke="#111111" stroke-width="0.9"/>
<circle cx="642.8" cy="528.4" r="2.0" fill="#fff" fill-opacity="0" stroke="#111111" stroke-width="0.9"/>
<circle cx="622.2" cy="529.3" r="2.0" fill="#fff" fill-opacity="0" stroke="#111111" stroke-width="0.9"/>
<circle cx="623.3" cy="532.1" r="2.0" fill="#fff" fill-opacity="0" stroke="#111111" stroke-width="0.9"/>
<circle cx="627.7" cy="531.5" r="2.0" fill="#fff" fill-opacity="0" stroke="#111111" stroke-width="0.9"/>
<circle cx="632.3" cy="533.6" r="2.0" fill="#fff" fill-opacity="0" stroke="#111111" stroke-width="0.9"/>
<circle cx="622.9" cy="538.2" r="2.0" fill="#fff" fill-opacity="0" stroke="#111111" stroke-width="0.9"/>
<circle cx="626.2" cy="539.2" r="2.0" fill="#fff" fill-opacity="0" stroke="#111111" stroke-width="0.9"/>
<circle cx="593.3" cy="554.7" r="2.0" fill="#fff" fill-opacity="0" stroke="#111111" stroke-width="0.9"/>
<circle cx="561.7" cy="580.9" r="2.0" fill="#fff" fill-opacity="0" stroke="#111111" stroke-width="0.9"/>
<circle cx="591" cy="584.1" r="2.0" fill="#fff" fill-opacity="0" stroke="#111111" stroke-width="0.9"/>
<circle cx="590.2" cy="585.9" r="2.0" fill="#fff" fill-opacity="0" stroke="#111111" stroke-width="0.9"/>
<circle cx="575.3" cy="591.3" r="2.0" fill="#fff" fill-opacity="0" stroke="#111111" stroke-width="0.9"/>
<circle cx="574" cy="593.6" r="2.0" fill="#fff" fill-opacity="0" stroke="#111111" stroke-width="0.9"/>
<circle cx="586.1" cy="593.2" r="2.0" fill="#fff" fill-opacity="0" stroke="#111111" stroke-width="0.9"/>
<text x="618.40" y="625.00" font-size="9.1" text-anchor="middle" class="thin">RNA-seq expression (log2)</text>
<text class="thin" transform="translate(529.0,594.2) rotate(-90)" font-size="9.1">q-PCR expression (log2)</text>
<g class="thin"><text x="553.0" y="499.8" font-size="9.0"><tspan font-style="italic">r</tspan> = 0.72</text>
<text x="553.2" y="510.0" font-size="9.0" font-style="italic">p</text>
<text x="560.6" y="510.0" font-size="9.0">=</text>
<text x="568.1" y="510.0" font-size="8.2">1.48E-05</text></g>
</svg>
</body></html>
